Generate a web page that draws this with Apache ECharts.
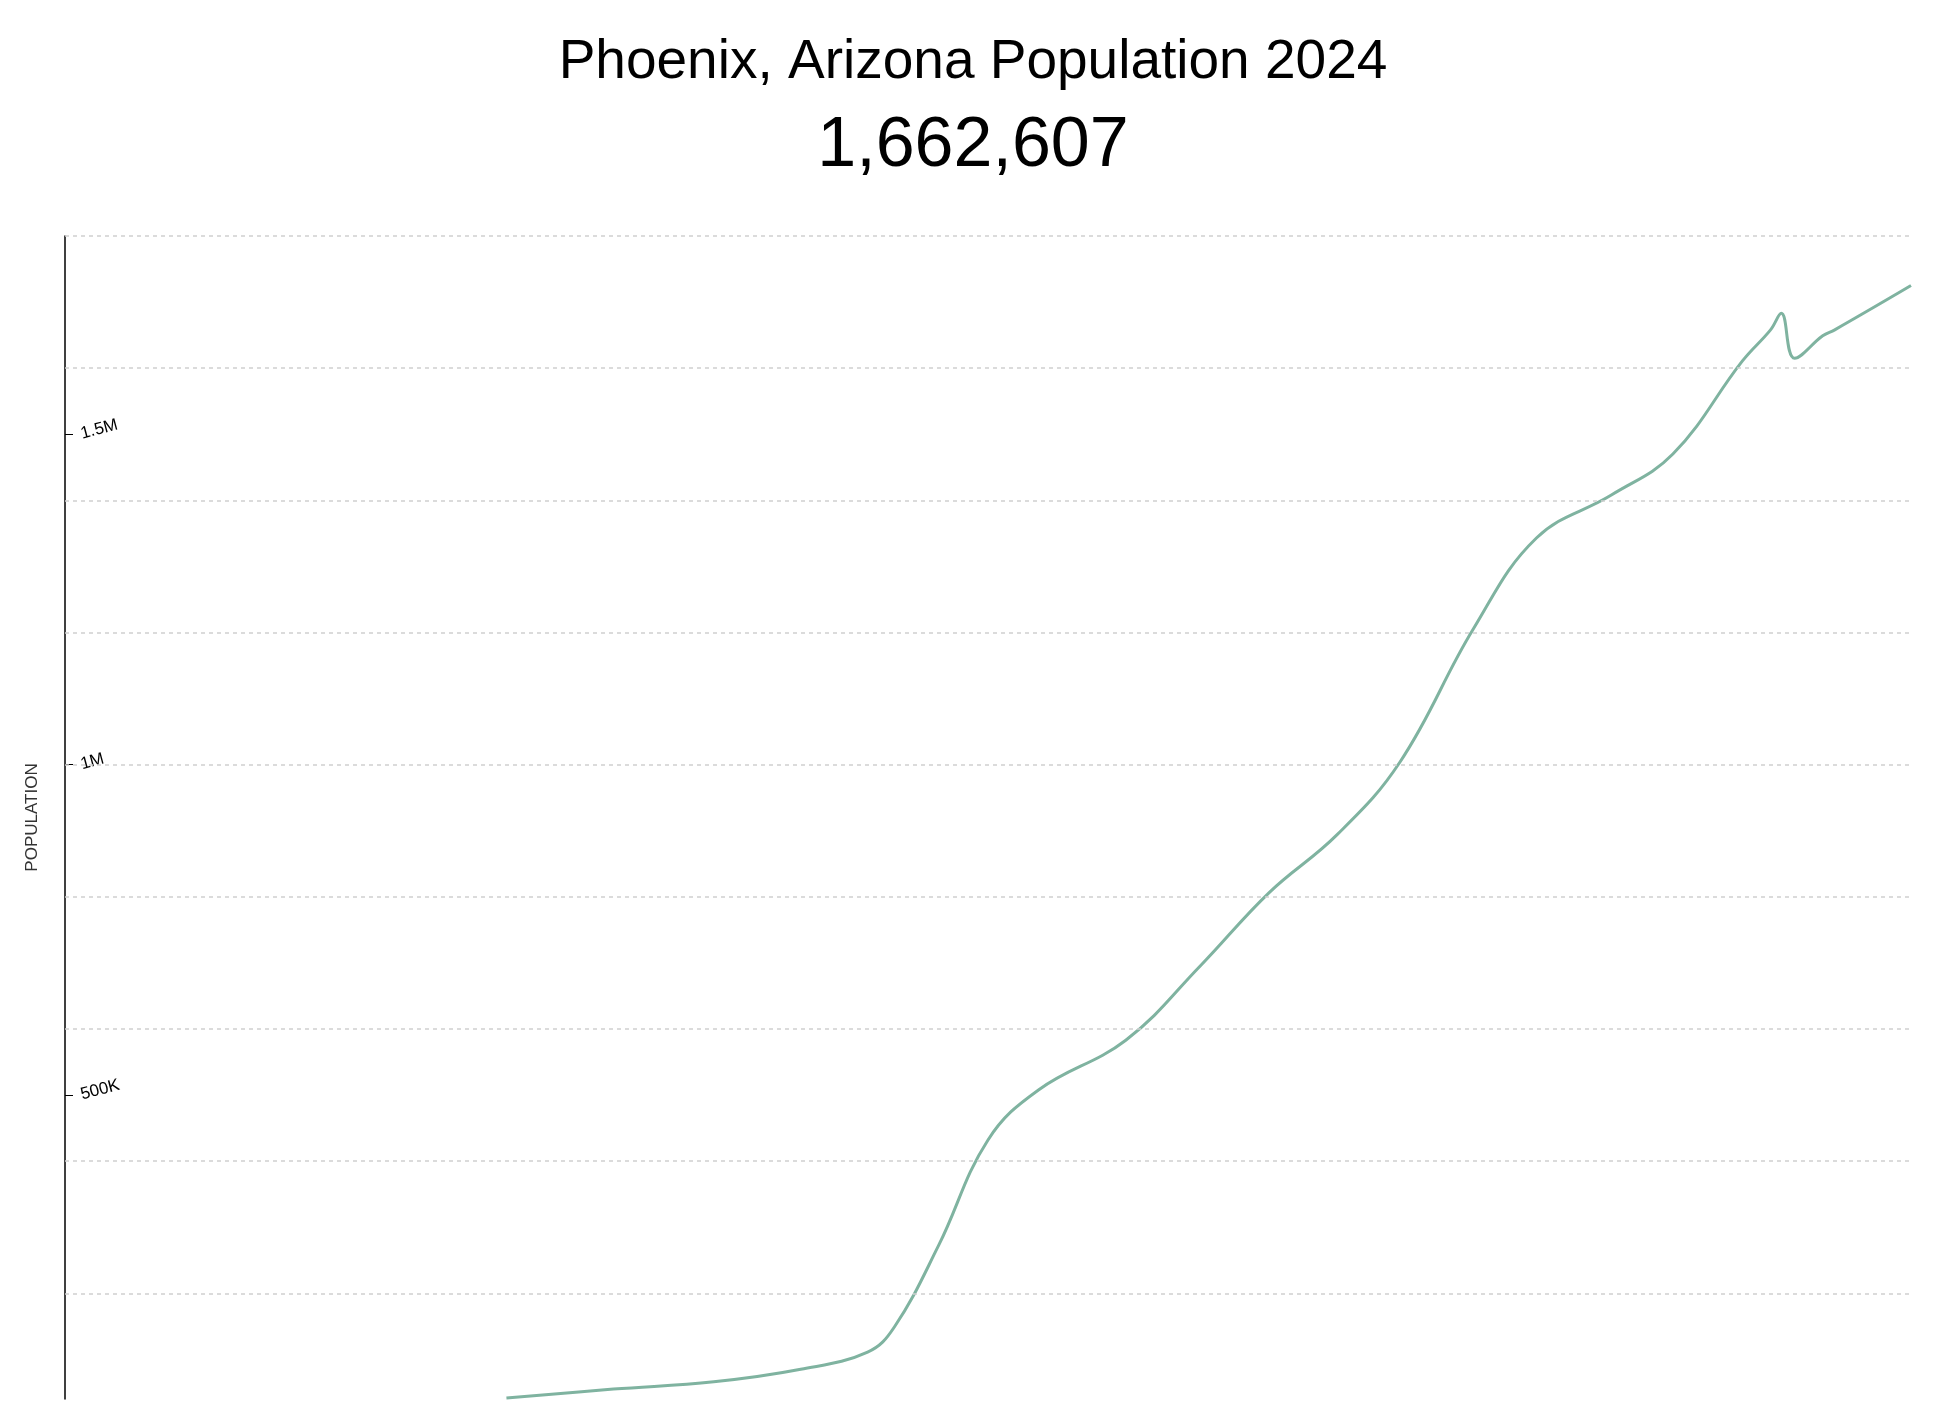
<!DOCTYPE html>
<html><head><meta charset="utf-8">
<script src="https://cdn.jsdelivr.net/npm/echarts@6/dist/echarts.min.js"></script>
<style>html,body{margin:0;padding:0;background:#fff}#c{width:1946px;height:1406px}</style>
</head><body><div id="c"></div>
<script>
const years = [1923,1931,1938.5,1945,1950,1952,1955.3,1959,1962.8,1969.3,1974.9,1980,1985.1,1989.8,1995.3,2000,2005.6,2010.2,2015.4,2017.5,2018.3,2019.3,2021.4,2022.3,2028];
const population = [41500,55000,66000,85000,111000,149000,272000,432000,508000,583000,696000,806000,894000,1004000,1206000,1343000,1408000,1470000,1611000,1658000,1683000,1615000,1649000,1658000,1725000];
const labelTicks = [500000,1000000,1500000];
const gridValues = [200000,400000,600000,800000,1000000,1200000,1400000,1600000,1800000];
const titleText = 'Phoenix, Arizona Population 2024';
const subtitleText = '1,662,607';

const chart = echarts.init(document.getElementById('c'));
const font = 'Liberation Sans, Arial, sans-serif';
chart.setOption({
  animation:false,
  title:{text:titleText,subtext:subtitleText,left:'center',top:30,itemGap:22,
    textStyle:{fontFamily:font,fontSize:55,fontWeight:'normal',color:'#000'},
    subtextStyle:{fontFamily:font,fontSize:70,color:'#000'}},
  grid:{left:65,right:35,top:236,bottom:7},
  xAxis:{type:'value',min:1890,max:2028,show:false},
  yAxis:{type:'value',min:40000,max:1800000,
    name:'POPULATION',nameLocation:'middle',nameGap:24,
    nameTextStyle:{fontFamily:font,fontSize:17,color:'#333'},
    axisLine:{show:true,lineStyle:{color:'#000',width:1.5}},
    axisTick:{show:true,inside:true,length:8,customValues:labelTicks,lineStyle:{color:'#000'}},
    axisLabel:{inside:true,rotate:15,margin:16,customValues:labelTicks,fontFamily:font,fontSize:17,color:'#000',
      formatter:v=>v>=1e6?(v/1e6)+'M':(v/1e3)+'K'},
    splitLine:{show:false}},
  series:[{type:'line',data:years.map((y,i)=>[y,population[i]]),smooth:0.4,showSymbol:false,
    lineStyle:{color:'#7fb3a0',width:3},
    markLine:{symbol:'none',silent:true,label:{show:false},
      lineStyle:{color:'#d0d0d0',type:[4,4],width:1.5},
      data:gridValues.map(v=>({yAxis:v}))}}]
});
</script></body></html>
